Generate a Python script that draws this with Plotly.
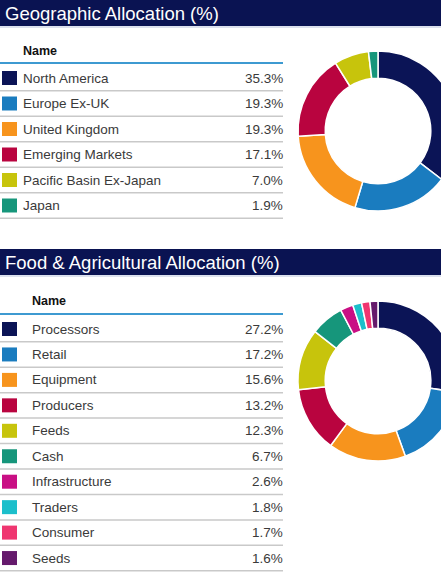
import plotly.graph_objects as go

# ---------------- data ----------------
geo_title = "Geographic Allocation (%)"
geo_names = ["North America", "Europe Ex-UK", "United Kingdom", "Emerging Markets",
             "Pacific Basin Ex-Japan", "Japan"]
geo_values = [35.3, 19.3, 19.3, 17.1, 7.0, 1.9]

food_title = "Food & Agricultural Allocation (%)"
food_names = ["Processors", "Retail", "Equipment", "Producers", "Feeds", "Cash",
              "Infrastructure", "Traders", "Consumer", "Seeds"]
food_values = [27.2, 17.2, 15.6, 13.2, 12.3, 6.7, 2.6, 1.8, 1.7, 1.6]

palette = ["#0b1456", "#1a7cbf", "#f7941d", "#b9043f", "#c7c40c", "#16967b",
           "#c90f84", "#1cbfcb", "#ef3670", "#651a6c"]

# ---------------- layout constants ----------------
W, H = 460, 572
NAVY = "#0a1352"
TEXT = "#3a3a3a"
BODY_FONT = "Liberation Sans"

fig = go.Figure()
shapes, annotations = [], []


def section(title, names, values, top, text_x, name_y, line_y, row0, step, pie_cy):
    # header bar
    shapes.append(dict(type="rect", xref="x", yref="y", x0=0, x1=W, y0=top, y1=top + 26,
                       fillcolor=NAVY, line=dict(width=0), layer="below"))
    shapes.append(dict(type="line", xref="x", yref="y", x0=0, x1=W, y0=top + 27, y1=top + 27,
                       line=dict(color="#b9c3dc", width=1)))
    annotations.append(dict(xref="x", yref="y", x=3, y=top + 13, text=title, showarrow=False,
                            xanchor="left", yanchor="middle",
                            font=dict(family=BODY_FONT, size=18.5, color="white")))
    # column header
    annotations.append(dict(xref="x", yref="y", x=text_x - 2, y=name_y, text="<b>Name</b>",
                            showarrow=False, xanchor="left", yanchor="middle",
                            font=dict(family=BODY_FONT, size=12.5, color="#111111")))
    shapes.append(dict(type="line", xref="x", yref="y", x0=0, x1=283, y0=line_y, y1=line_y,
                       line=dict(color="#3d9ad1", width=2)))
    for i, (n, v) in enumerate(zip(names, values)):
        cy = row0 + i * step
        shapes.append(dict(type="rect", xref="x", yref="y", x0=2, x1=17, y0=cy - 7, y1=cy + 7,
                           fillcolor=palette[i], line=dict(width=0)))
        annotations.append(dict(xref="x", yref="y", x=text_x - 2, y=cy, text=n, showarrow=False,
                                xanchor="left", yanchor="middle",
                                font=dict(family=BODY_FONT, size=13.5, color=TEXT)))
        annotations.append(dict(xref="x", yref="y", x=285, y=cy, text=f"{v:.1f}%",
                                showarrow=False, xanchor="right", yanchor="middle",
                                font=dict(family=BODY_FONT, size=13.5, color=TEXT)))
        sy = cy + step / 2
        shapes.append(dict(type="line", xref="x", yref="y", x0=0, x1=283, y0=sy, y1=sy,
                           line=dict(color="#c9c9c9", width=1.5)))
    # donut
    cx, r = 378, 80
    fig.add_trace(go.Pie(
        labels=names, values=values, sort=False, direction="clockwise", rotation=0,
        hole=0.66, textinfo="none", hoverinfo="label+percent", showlegend=False,
        marker=dict(colors=palette[:len(names)], line=dict(color="white", width=1.5)),
        domain=dict(x=[(cx - r) / W, (cx + r) / W],
                    y=[1 - (pie_cy + r) / H, 1 - (pie_cy - r) / H]),
    ))


section(geo_title, geo_names, geo_values, top=0, text_x=23, name_y=51, line_y=63,
        row0=78, step=25.5, pie_cy=131)
section(food_title, food_names, food_values, top=249, text_x=32, name_y=301, line_y=314,
        row0=329, step=25.45, pie_cy=381)

fig.update_layout(
    width=W, height=H, margin=dict(l=0, r=0, t=0, b=0),
    paper_bgcolor="white", plot_bgcolor="white",
    xaxis=dict(range=[0, W], visible=False, fixedrange=True),
    yaxis=dict(range=[H, 0], visible=False, fixedrange=True),
    shapes=shapes, annotations=annotations,
)

fig.write_html("out.html", config={"displayModeBar": False},
               post_script="document.documentElement.style.overflow='hidden';"
                           "document.body.style.overflow='hidden';"
                           "document.body.style.margin='0';")
